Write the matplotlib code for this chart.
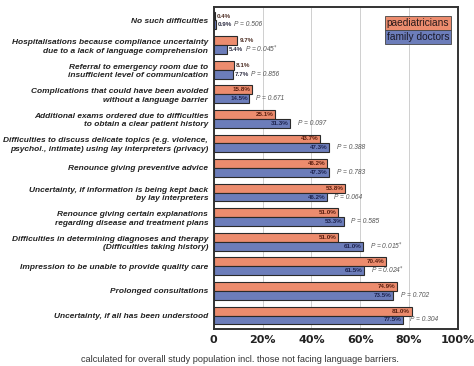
"""
Language barrier difficulties: paediatricians vs family doctors
"""
import matplotlib
matplotlib.use('Agg')
import matplotlib.pyplot as plt
import numpy as np

categories = [
    'No such difficulties',
    'Hospitalisations because compliance uncertainty\ndue to a lack of language comprehension',
    'Referral to emergency room due to\ninsufficient level of communication',
    'Complications that could have been avoided\nwithout a language barrier',
    'Additional exams ordered due to difficulties\nto obtain a clear patient history',
    'Difficulties to discuss delicate topics (e.g. violence,\npsychol., intimate) using lay interpreters (privacy)',
    'Renounce giving preventive advice',
    'Uncertainty, if information is being kept back\nby lay interpreters',
    'Renounce giving certain explanations\nregarding disease and treatment plans',
    'Difficulties in determining diagnoses and therapy\n(Difficulties taking history)',
    'Impression to be unable to provide quality care',
    'Prolonged consultations',
    'Uncertainty, if all has been understood',
]
paediatricians = [0.4, 9.7, 8.1, 15.8, 25.1, 43.7, 46.2, 53.8, 51.0, 51.0, 70.4, 74.9, 81.0]
family_doctors = [0.9, 5.4, 7.7, 14.5, 31.3, 47.3, 47.3, 46.2, 53.3, 61.0, 61.5, 73.5, 77.5]
p_values = ['0.506', '0.045', '0.856', '0.671', '0.097', '0.388', '0.783',
            '0.064', '0.585', '0.015', '0.024', '0.702', '0.304']
significant = [False, True, False, False, False, False, False,
               False, False, True, True, False, False]
xtick_labels = ['0', '20%', '40%', '60%', '80%', '100%']

PED = '#EC8C6E'
FAM = '#6C7DBA'
SANS = ['Liberation Sans', 'DejaVu Sans']

fig = plt.figure(figsize=(4.74, 3.66), dpi=100)
ax = fig.add_axes([0.451, 0.101, 0.515, 0.880])

y = np.arange(len(categories))
h = 0.36
ax.barh(y - h / 2, paediatricians, height=h, color=PED, edgecolor='#2a2a2a', linewidth=0.8, zorder=3)
ax.barh(y + h / 2, family_doctors, height=h, color=FAM, edgecolor='#2a2a2a', linewidth=0.8, zorder=3)

for i in range(len(categories)):
    pv, fv = paediatricians[i], family_doctors[i]
    # value labels: inside the bar end, or just outside for short bars
    if pv < 12:
        ax.text(pv + 0.8, i - h / 2, f'{pv:.1f}%', ha='left', va='center', fontsize=4.5,
                family=SANS, fontweight='bold', color='#4a2a20', zorder=4)
    else:
        ax.text(pv - 0.6, i - h / 2, f'{pv:.1f}%', ha='right', va='center', fontsize=4.5,
                family=SANS, fontweight='bold', color='#5a1e0e', zorder=4)
    if fv < 12:
        ax.text(fv + 0.8, i + h / 2, f'{fv:.1f}%', ha='left', va='center', fontsize=4.5,
                family=SANS, fontweight='bold', color='#2a2a40', zorder=4)
        px = fv + 7.5
    else:
        ax.text(fv - 0.6, i + h / 2, f'{fv:.1f}%', ha='right', va='center', fontsize=4.5,
                family=SANS, fontweight='bold', color='#1e2450', zorder=4)
        px = fv + 3
    ptxt = f'P = {p_values[i]}' + ('$^{*}$' if significant[i] else '')
    ax.text(px, i + h / 2, ptxt, ha='left', va='center', fontsize=4.8,
            family=SANS, style='italic', color='#555555', zorder=4)

ax.set_xlim(0, 100)
ax.set_ylim(len(categories) - 0.45, -0.55)
ax.set_xticks([0, 20, 40, 60, 80, 100])
ax.set_xticklabels(xtick_labels, fontsize=8, fontweight='bold', color='#222222')
ax.set_yticks(y)
ax.set_yticklabels(categories, family=SANS, fontsize=6.0, fontweight='bold',
                   style='italic', color='#222222', linespacing=1.3)
ax.tick_params(axis='both', length=0, pad=4)
ax.xaxis.grid(True, color='#c8c8c8', linewidth=0.6, zorder=0)
for s in ax.spines.values():
    s.set_color('#333333')
    s.set_linewidth(1.4)

# legend as coloured label boxes
ax.text(96.5, 0.12, 'paediatricians', ha='right', va='center', fontsize=7.3, family=SANS,
        color='#2a1a1a', bbox=dict(boxstyle='square,pad=0.2', fc=PED, ec='#444444', lw=0.6))
ax.text(96.5, 0.68, 'family doctors', ha='right', va='center', fontsize=7.3, family=SANS,
        color='#1a1a2a', bbox=dict(boxstyle='square,pad=0.2', fc=FAM, ec='#444444', lw=0.6))

fig.text(0.507, 0.018, 'calculated for overall study population incl. those not facing language barriers.',
         ha='center', va='center', fontsize=6.6, family=SANS, color='#333333')

fig.savefig('out.png', dpi=100)
